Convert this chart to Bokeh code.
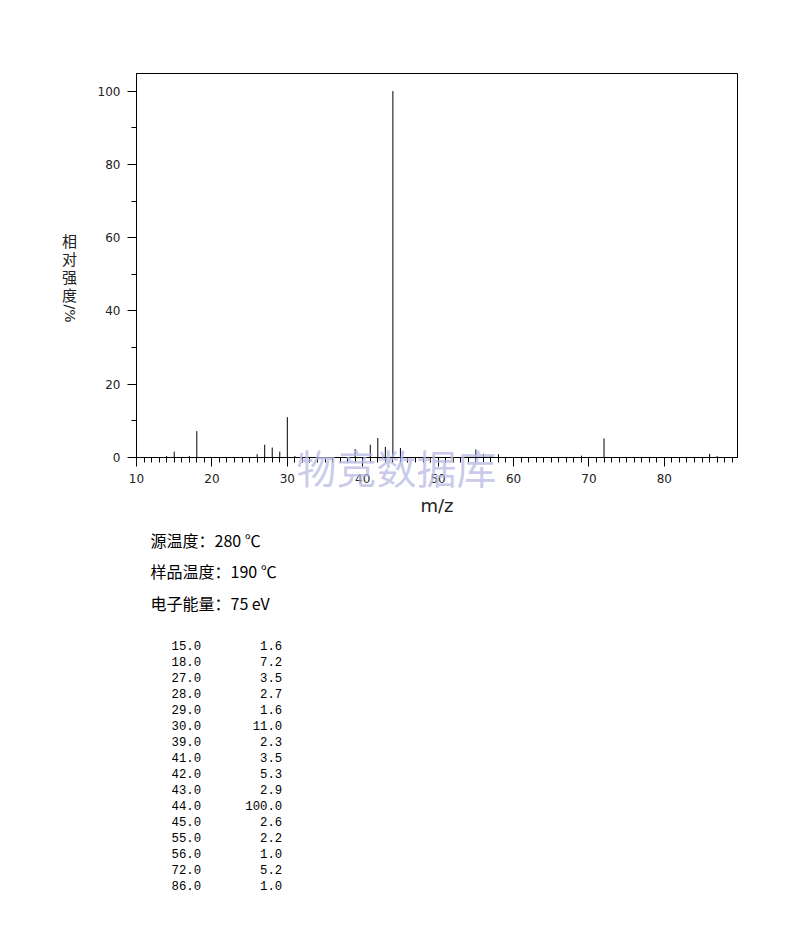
from bokeh.plotting import figure
from bokeh.models import Range1d, FixedTicker, Label, ColumnDataSource
from bokeh.embed import file_html
from bokeh.resources import INLINE

# ---- data ----
mz = [15, 18, 27, 28, 29, 30, 39, 41, 42, 43, 44, 45, 55, 56, 72, 86]
intensity = [1.6, 7.2, 3.5, 2.7, 1.6, 11.0, 2.3, 3.5, 5.3, 2.9, 100.0, 2.6, 2.2, 1.0, 5.2, 1.0]
minor_mz = [14, 17, 26, 31, 57, 58, 69, 87]
minor_intensity = [0.4, 0.4, 0.9, 0.4, 0.5, 0.9, 0.5, 0.4]
x_ticks = [10, 20, 30, 40, 50, 60, 70, 80]
y_ticks = [0, 20, 40, 60, 80, 100]
conditions = ["源温度：280 ℃", "样品温度：190 ℃", "电子能量：75 eV"]
y_label = "相\n对\n强\n度"
watermark = "物竞数据库"

X0, X1 = 10, 89.7
Y0, Y1 = 0, 104.8
W, H = 790, 930
FL, FT, FR, FB = 136, 73, 737, 457  # frame in figure px

p = figure(width=W, height=H, output_backend="svg", toolbar_location=None,
           x_range=Range1d(X0, X1), y_range=Range1d(Y0, Y1),
           min_border_left=FL, min_border_right=W - FR,
           min_border_top=FT, min_border_bottom=H - FB,
           background_fill_color="white", border_fill_color="white")
p.outline_line_color = "black"
p.outline_line_width = 1
p.grid.visible = False

all_mz = mz + minor_mz
all_int = intensity + minor_intensity
src = ColumnDataSource(dict(x=all_mz, y0=[0] * len(all_mz), y1=all_int))
p.segment(x0="x", y0="y0", x1="x", y1="y1", source=src, line_color="black", line_width=1)

p.xaxis.ticker = FixedTicker(ticks=x_ticks, minor_ticks=list(range(10, 90)))
p.yaxis.ticker = FixedTicker(ticks=y_ticks, minor_ticks=list(range(0, 101, 10)))
for ax in (p.xaxis[0], p.yaxis[0]):
    ax.axis_line_color = "black"
    ax.major_tick_line_color = "black"
    ax.minor_tick_line_color = "black"
    ax.major_tick_in = 0
    ax.minor_tick_in = 0
    ax.major_tick_out = 9
    ax.minor_tick_out = 5
    ax.major_label_text_font = "DejaVu Sans"
    ax.major_label_text_font_size = "12px"
    ax.major_label_text_color = "#222222"
    ax.major_label_standoff = 7
p.xaxis.axis_label = "m/z"
p.xaxis.axis_label_text_font = "DejaVu Sans"
p.xaxis.axis_label_text_font_size = "18px"
p.xaxis.axis_label_text_font_style = "normal"
p.xaxis.axis_label_text_color = "#222222"
p.xaxis.axis_label_standoff = 9


def dx(px):
    return X0 + (px - FL) * (X1 - X0) / (FR - FL)


def dy(py):
    return Y1 - (py - FT) * (Y1 - Y0) / (FB - FT)


cjk = "Noto Sans CJK SC"
NB = "\u00a0"
# vertical y-axis label (side panels, so not clipped to the frame)
p.add_layout(Label(x=dx(69), y=dy(267), text=y_label, text_font=cjk,
                   text_font_size="15px", text_align="center", text_baseline="middle",
                   text_line_height=0.86, text_color="#222222"), "left")
p.add_layout(Label(x=dx(69), y=dy(313), text="/%", text_font="DejaVu Sans",
                   text_font_size="14px", text_align="center", text_baseline="middle",
                   angle=-1.5708, text_color="#222222"), "below")

# watermark
p.add_layout(Label(x=dx(396), y=dy(466), text=watermark, text_font=cjk,
                   text_font_size="40px", text_align="center", text_baseline="middle",
                   text_color="#b9b9e3", text_alpha=0.75), "above")

# condition text block
p.add_layout(Label(x=dx(150), y=dy(527), text="\n".join(conditions), text_font=cjk,
                   text_font_size="16px", text_align="left", text_baseline="top",
                   text_line_height=1.315, text_color="black"), "below")

# peak table
rows = [(f"{m:.1f}".rjust(4) + f"{v:.1f}".rjust(11)).replace(" ", NB)
        for m, v in zip(mz, intensity)]
p.add_layout(Label(x=dx(171), y=dy(639), text="\n".join(rows), text_font="Liberation Mono",
                   text_font_size="12.3px", text_align="left", text_baseline="top",
                   text_line_height=1.145, text_color="black"), "below")

open("out.html", "w").write(file_html(p, INLINE))
